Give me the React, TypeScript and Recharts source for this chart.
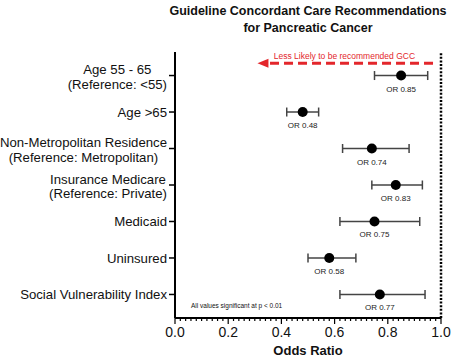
import { ScatterChart, Scatter, XAxis, YAxis, ErrorBar, ReferenceLine, ReferenceDot } from 'recharts'

const categories = [
    'Age 55 - 65\n(Reference: <55)',
    'Age >65',
    'Non-Metropolitan Residence\n(Reference: Metropolitan)',
    'Insurance Medicare\n(Reference: Private)',
    'Medicaid',
    'Uninsured',
    'Social Vulnerability Index',
]
const oddsRatios = [0.85, 0.48, 0.74, 0.83, 0.75, 0.58, 0.77]
const ciLow = [0.75, 0.42, 0.63, 0.74, 0.62, 0.5, 0.62]
const ciHigh = [0.95, 0.54, 0.88, 0.93, 0.92, 0.68, 0.94]
const rows = [1, 2, 3, 4, 5, 6, 7]
// major labels every 0.2, small ticks every 0.02
const minorTicks = Array.from({ length: 51 }, (_, i) => Math.round(i * 2) / 100)

const data = categories.map((name, i) => ({
    name,
    row: rows[i],
    or: oddsRatios[i],
    err: [oddsRatios[i] - ciLow[i], ciHigh[i] - oddsRatios[i]],
}))

const FONT = "'Liberation Sans', Arial, Helvetica, sans-serif"
const RED = '#e3262b'
const LABEL_SIZE = 13.2

let ctx: CanvasRenderingContext2D | null = null
function textWidth(s: string) {
    if (!ctx) {
        ctx = document.createElement('canvas').getContext('2d')
        if (ctx) ctx.font = `${LABEL_SIZE}px ${FONT}`
    }
    return ctx ? ctx.measureText(s).width : s.length * 6.5
}

function XTick({ x, y, payload }: any) {
    const v = payload.value
    const major = Math.abs(v * 5 - Math.round(v * 5)) < 1e-6
    return (
        <g>
            <line x1={x} x2={x} y1={y} y2={y + (major ? 6 : 3)} stroke="#000" strokeWidth={1.2} />
            {major && (
                <text x={x} y={y + 19} textAnchor="middle" fontSize={14} fill="#111">
                    {v.toFixed(1)}
                </text>
            )}
        </g>
    )
}

function YTick({ x, y, payload }: any) {
    const label = categories[payload.value - 1] || ''
    const lines = label.split('\n')
    // two-line labels are centred as a block whose right edge sits at the tick
    const w = Math.max(...lines.map(textWidth))
    const cx = x - 8 - w / 2
    return (
        <g>
            <line x1={x - 6} x2={x} y1={y} y2={y} stroke="#000" strokeWidth={1.5} />
            {lines.length === 1 ? (
                <text x={x - 8} y={y + 4.7} textAnchor="end" fontSize={LABEL_SIZE} fill="#111">
                    {lines[0]}
                </text>
            ) : (
                <text textAnchor="middle" fontSize={LABEL_SIZE} fill="#111">
                    <tspan x={cx} y={y - 1.5}>{lines[0]}</tspan>
                    <tspan x={cx} y={y + 13}>{lines[1]}</tspan>
                </text>
            )}
        </g>
    )
}

function Point(props: any) {
    const { cx, cy, payload } = props
    return (
        <g>
            <circle cx={cx} cy={cy} r={5} fill="#000" />
            <text x={cx} y={cy + 16} textAnchor="middle" fontSize={8} fill="#222">
                OR {payload.or.toFixed(2)}
            </text>
        </g>
    )
}

export default function App() {
    return (
        <div style={{ position: 'relative', width: 474, height: 361, fontFamily: FONT, background: '#fff' }}>
            <style>{`body{margin:0}`}</style>
            <div
                style={{
                    position: 'absolute',
                    left: 108,
                    top: 2.5,
                    width: 400,
                    textAlign: 'center',
                    fontWeight: 'bold',
                    fontSize: 12.5,
                    lineHeight: '17px',
                    color: '#111',
                }}
            >
                Guideline Concordant Care Recommendations
                <br />
                for Pancreatic Cancer
            </div>
            <div
                style={{
                    position: 'absolute',
                    left: 191,
                    top: 302,
                    fontSize: 6.5,
                    lineHeight: '8px',
                    color: '#111',
                    whiteSpace: 'nowrap',
                }}
            >
                All values significant at p &lt; 0.01
            </div>
            <ScatterChart width={474} height={361} margin={{ top: 52, right: 33, left: 0, bottom: 0 }}>
                <XAxis
                    type="number"
                    dataKey="or"
                    domain={[0, 1]}
                    ticks={minorTicks}
                    interval={0}
                    tick={<XTick />}
                    tickLine={false}
                    tickSize={0}
                    tickMargin={0}
                    height={43}
                    axisLine={{ stroke: '#000', strokeWidth: 2 }}
                    label={{ value: 'Odds Ratio', position: 'insideBottom', offset: 6, fontSize: 13, fontWeight: 'bold', fill: '#111' }}
                />
                <YAxis
                    type="number"
                    dataKey="row"
                    domain={[0.355, 7.645]}
                    reversed
                    ticks={rows}
                    interval={0}
                    tick={<YTick />}
                    tickLine={false}
                    tickSize={0}
                    tickMargin={0}
                    width={175}
                    axisLine={{ stroke: '#000', strokeWidth: 2 }}
                />
                <ReferenceLine x={1} stroke="#000" strokeWidth={2.5} strokeDasharray="2 1.6" />
                <ReferenceLine
                    segment={[{ x: 0.97, y: 0.665 }, { x: 0.335, y: 0.665 }]}
                    stroke={RED}
                    strokeWidth={3}
                    strokeDasharray="9 5"
                />
                <ReferenceDot
                    x={0.31}
                    y={0.665}
                    shape={(p: any) => (
                        <polygon points={`${p.cx},${p.cy} ${p.cx + 11},${p.cy - 4.5} ${p.cx + 11},${p.cy + 4.5}`} fill={RED} />
                    )}
                />
                <ReferenceDot
                    x={0.637}
                    y={0.665}
                    shape={(p: any) => (
                        <text x={p.cx} y={p.cy - 4} textAnchor="middle" fontSize={8.5} fill={RED}>
                            Less Likely to be recommended GCC
                        </text>
                    )}
                />
                <Scatter data={data} shape={<Point />} isAnimationActive={false}>
                    <ErrorBar dataKey="err" direction="x" width={4.5} stroke="#444" strokeWidth={1.5} />
                </Scatter>
            </ScatterChart>
        </div>
    )
}
